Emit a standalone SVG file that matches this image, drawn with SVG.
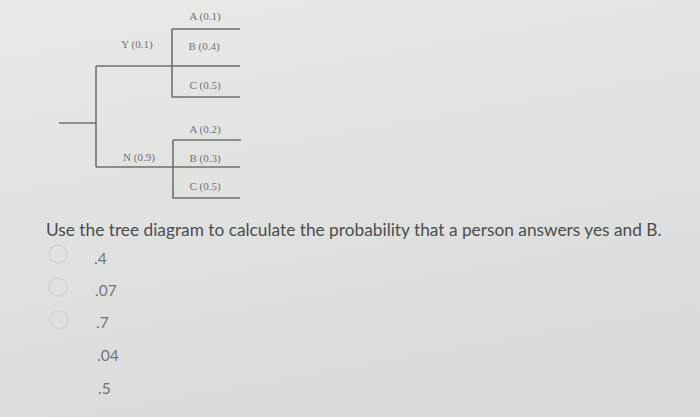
<svg xmlns="http://www.w3.org/2000/svg" width="700" height="417" viewBox="0 0 700 417">
<defs>
<linearGradient id="bg" x1="0" y1="0" x2="0.3" y2="1">
<stop offset="0" stop-color="#e9e9e7"/>
<stop offset="1" stop-color="#d9dcda"/>
</linearGradient>
</defs>
<style>
.ln{stroke:#6e7070;stroke-width:1.6;fill:none}
.lb{font-family:"Liberation Serif",serif;font-size:11px;fill:#707070;text-anchor:middle}
.q{font-family:Lato,"Liberation Sans",sans-serif;font-size:17.3px;fill:#4a4d50}
.opt{font-family:Lato,"Liberation Sans",sans-serif;font-size:15.5px;fill:#70757a}
.rad{fill:none;stroke:#d2d4d3;stroke-width:1.5}
</style>
<rect width="700" height="417" fill="url(#bg)"/>
<g id="connectors">
<path class="ln" d="M59 123H96"/>
<path class="ln" d="M96 66V167"/>
<path class="ln" d="M96 66H240"/>
<path class="ln" d="M96 167H240"/>
<path class="ln" d="M172 29H240M172 29V97H240"/>
<path class="ln" d="M173 140H241M173 140V198H240"/>
</g>
<g id="node-Y"><text class="lb" x="137" y="48">Y (0.1)</text></g>
<g id="node-N"><text class="lb" x="139" y="161">N (0.9)</text></g>
<g id="node-YA"><text class="lb" x="205" y="20">A (0.1)</text></g>
<g id="node-YB"><text class="lb" x="204" y="50">B (0.4)</text></g>
<g id="node-YC"><text class="lb" x="205" y="89">C (0.5)</text></g>
<g id="node-NA"><text class="lb" x="205" y="133">A (0.2)</text></g>
<g id="node-NB"><text class="lb" x="205" y="162">B (0.3)</text></g>
<g id="node-NC"><text class="lb" x="205" y="190">C (0.5)</text></g>
<text class="q" x="46" y="236">Use the tree diagram to calculate the probability that a person answers yes and B.</text>
<g id="options">
<circle class="rad" cx="58" cy="254" r="9"/>
<circle class="rad" cx="58" cy="287" r="9"/>
<circle class="rad" cx="59" cy="320" r="9"/>
<text class="opt" x="94" y="264">.4</text>
<text class="opt" x="95" y="296">.07</text>
<text class="opt" x="96" y="328">.7</text>
<text class="opt" x="97" y="361">.04</text>
<text class="opt" x="98" y="394">.5</text>
</g>
</svg>
